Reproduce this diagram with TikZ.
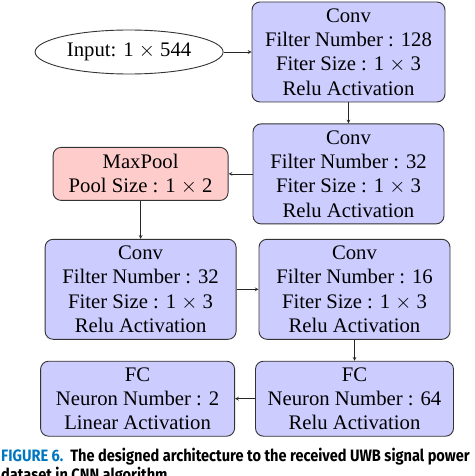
\documentclass[tikz,border=0pt]{standalone}
\usepackage{fontspec}
\usepackage{xcolor}
\usetikzlibrary{positioning,shapes.geometric}
\setmainfont{Liberation Serif}
\newfontfamily\capfont[FakeStretch=0.885]{Fira Sans}
\definecolor{convblue}{RGB}{204, 204, 255}
\definecolor{poolred}{RGB}{255, 204, 204}
\definecolor{capblue}{RGB}{0, 118, 192}

\begin{document}
\begin{tikzpicture}[
    x=1pt, y=1pt,
    font=\fontsize{20.7pt}{24.4pt}\selectfont,
    box/.style={rectangle, rounded corners=8pt, draw=black!80, line width=0.9pt, align=center, inner sep=3pt},
    conv/.style={box, fill=convblue, minimum width=191pt, minimum height=100pt},
    fc/.style={box, fill=convblue, minimum height=75pt},
    pool/.style={box, fill=poolred, minimum width=175pt, minimum height=53pt},
    arrow/.style={->, line width=0.7pt, >=stealth, black!85}
]
    \useasboundingbox (0,0) rectangle (474,-476);

    \node[conv, minimum width=193pt] (conv1) at (348.5,-52) {Conv\\Filter Number : 128\\Fiter Size : 1 $\times$ 3\\Relu Activation};
    \node[ellipse, draw=black!80, line width=0.9pt, minimum width=188pt, minimum height=44pt, inner sep=0pt, left=28pt of conv1] (input) {Input: 1 $\times$ 544};
    \node[conv, below=21pt of conv1] (conv2) {Conv\\Filter Number : 32\\Fiter Size : 1 $\times$ 3\\Relu Activation};
    \node[pool, left=24pt of conv2] (pool) {MaxPool\\Pool Size : 1 $\times$ 2};
    \node[conv, below=38pt of pool] (conv3) {Conv\\Filter Number : 32\\Fiter Size : 1 $\times$ 3\\Relu Activation};
    \node[conv, right=22pt of conv3] (conv4) {Conv\\Filter Number : 16\\Fiter Size : 1 $\times$ 3\\Relu Activation};
    \node[fc, minimum width=198pt, below=21pt of conv4] (fc1) {FC\\Neuron Number : 64\\Relu Activation};
    \node[fc, minimum width=194pt, left=20pt of fc1] (fc2) {FC\\Neuron Number : 2\\Linear Activation};

    \draw[arrow] (input) -- (conv1);
    \draw[arrow] (conv1) -- (conv2);
    \draw[arrow] (conv2) -- (pool);
    \draw[arrow] (pool) -- (conv3);
    \draw[arrow] (conv3) -- (conv4);
    \draw[arrow] (conv4) -- (fc1);
    \draw[arrow] (fc1) -- (fc2);

    % caption (second line runs off the bottom, as in the original)
    \node[anchor=base west, align=left, inner sep=0pt, font=\capfont\bfseries\fontsize{16.5pt}{19.5pt}\selectfont] (caption) at (1,-480.5)
        {{\color{capblue}FIGURE 6.}\ \ The designed architecture to the received UWB signal power\\dataset in CNN algorithm};
\end{tikzpicture}
\end{document}
